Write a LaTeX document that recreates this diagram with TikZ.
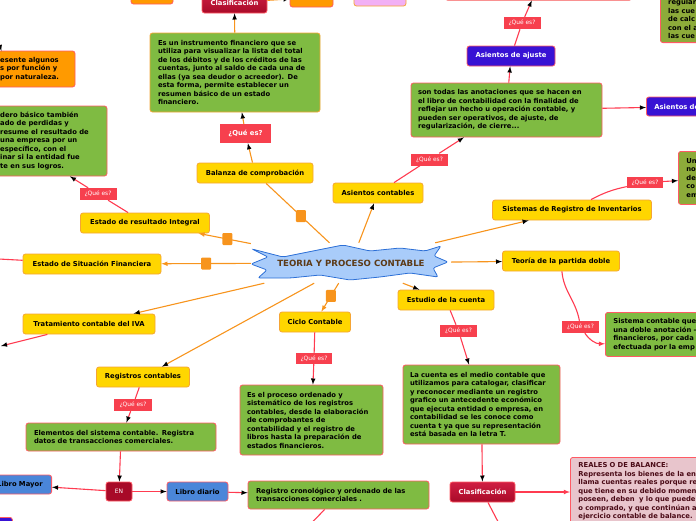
\documentclass[tikz,border=0pt]{standalone}
\usepackage{fontspec}
\setmainfont{DejaVu Sans}
\usetikzlibrary{arrows}
\usetikzlibrary{calc}

\definecolor{topicfill}{HTML}{FFD600}
\definecolor{topicline}{HTML}{F5A535}
\definecolor{notefill}{HTML}{7FBB42}
\definecolor{noteline}{HTML}{FF5A64}
\definecolor{olivefill}{HTML}{8DAB3A}
\definecolor{labelfill}{HTML}{F7404E}
\definecolor{linkorange}{HTML}{F7941D}
\definecolor{redline}{HTML}{FF3B50}
\definecolor{clasiftop}{HTML}{D01E42}
\definecolor{clasifbot}{HTML}{A80A28}
\definecolor{ajustefill}{HTML}{3812D4}
\definecolor{librofill}{HTML}{4A86D9}
\definecolor{orangefill}{HTML}{FF9A00}
\definecolor{pinkfill}{HTML}{E8C5CC}
\definecolor{pinktext}{HTML}{4A0A16}
\definecolor{lavender}{HTML}{F2B0F5}
\definecolor{starfill}{HTML}{A9CCFA}
\definecolor{starline}{HTML}{2C6FD6}
\definecolor{startext}{HTML}{5C3A17}

\begin{document}
\begin{tikzpicture}[x=1pt,y=-1pt,
    txt/.style={font=\fontsize{6.8}{8.5}\selectfont\bfseries},
    box/.style={txt,rounded corners=2.5pt,line width=0.8pt,inner sep=0pt},
    topic/.style={box,fill=topicfill,draw=topicline,minimum height=20},
    note/.style={box,fill=notefill,draw=noteline,align=left},
    olive/.style={box,fill=olivefill,draw=noteline},
    quees/.style={fill=labelfill,text=white,font=\fontsize{5.9}{7}\selectfont,
      inner sep=0pt,minimum width=37,minimum height=12},
    darkbox/.style={box,top color=clasiftop,bottom color=clasifbot,draw=noteline,
      text=white,minimum height=20},
    purplebox/.style={box,fill=ajustefill,draw=noteline,text=white,minimum height=20},
    librobox/.style={box,fill=librofill,draw=noteline,minimum height=19},
    orangebox/.style={box,fill=orangefill,draw=noteline},
    fragment/.style={txt,align=left,inner sep=0pt,anchor=west},
    marker/.style={fill=linkorange,rounded corners=1pt,minimum width=10,
      minimum height=12,inner sep=0pt},
    link/.style={draw=linkorange,line width=1.1pt},
    linkarrow/.style={link,-latex},
    redlink/.style={draw=redline,line width=1.1pt},
    redarrow/.style={redlink,-latex}]

  \useasboundingbox (0,0) rectangle (696,520);
  \clip (0,0) rectangle (696,520);

  % central topic
  \draw[fill=starfill,draw=starline,line width=0.8pt,rounded corners=2pt]
    (252,249) -- (283,257) -- (313,251) -- (343,245) -- (370,251) -- (400,248)
    -- (425,251) -- (441,246) -- (434,256) -- (448,262) -- (433,268) -- (438,277)
    -- (410,273) -- (380,277) -- (350,280) -- (320,275) -- (290,278) -- (258,278)
    -- (267,270) -- (251,264) -- (268,257) -- cycle;
  \node[font=\fontsize{8.6}{9}\selectfont\bfseries,text=startext,
    minimum width=200,minimum height=40] (main) at (351,263) {TEORIA Y PROCESO CONTABLE};

  % main topics
  \node[topic,minimum width=116] (balanza) at (255,173) {Balanza de comprobación};
  \node[topic,minimum width=90] (asientos) at (378,193) {Asientos contables};
  \node[topic,minimum width=159] (sistemas) at (572,210) {Sistemas de Registro de Inventarios};
  \node[topic,minimum width=117] (partida) at (561,261) {Teoría de la partida doble};
  \node[topic,minimum width=96] (estudio) at (446,300) {Estudio de la cuenta};
  \node[topic,minimum width=71] (ciclo) at (315,322) {Ciclo Contable};
  \node[topic,minimum width=93] (registros) at (143,377) {Registros contables};
  \node[topic,minimum width=132] (iva) at (89,324) {Tratamiento contable del IVA};
  \node[topic,minimum width=138] (situacion) at (92,264) {Estado de Situación Financiera};
  \node[topic,minimum width=129] (resultado) at (145,223) {Estado de resultado Integral};

  \draw[link] (main) -- node[marker,pos=.45] (mkbalanza) {} (balanza);
  \draw[linkarrow] (main) -- node[marker,pos=.45] (mkresultado) {} (resultado);
  \draw[linkarrow] (main) -- node[marker,pos=.5] (mksituacion) {} (situacion);
  \draw[linkarrow] (main) -- node[marker,pos=.45] (mkciclo) {} (ciclo);
  \path[linkarrow] (main) edge (asientos);
  \path[linkarrow] (main) edge (sistemas);
  \path[linkarrow] (main) edge (partida);
  \path[linkarrow] (main) edge (estudio);
  \path[linkarrow] (main) edge (registros);
  \path[linkarrow] (main) edge (iva);

  % balanza branch
  \node[quees,txt,text=white,minimum width=51,minimum height=19] (qbalanza) at (245.5,133.5) {¿Qué es?};
  \node[note,draw=topicline,minimum width=170,minimum height=79,text width=154pt] (balanzadef) at (235,72.5)
    {Es un instrumento financiero que se\\utiliza para visualizar la lista del total\\de los débitos y de los créditos de las\\cuentas, junto al saldo de cada una de\\ellas (ya sea deudor o acreedor). De\\esta forma, permite establecer un\\resumen básico de un estado\\financiero.};
  \node[darkbox,minimum width=65,minimum height=21] (clasiftop) at (234.5,2.5) {Clasificación};
  \node[orangebox,minimum width=42,minimum height=19] (toporange) at (152,-5.5) {};
  \node[orangebox,minimum width=43,minimum height=19] (topmiddle) at (311.5,-2.5) {};
  \node[box,fill=lavender,draw=topicline,minimum width=52,minimum height=19] (toppink) at (380,-3.5) {};
  \path[linkarrow] (balanza) edge (qbalanza);
  \path[linkarrow] (qbalanza) edge (balanzadef);
  \path[linkarrow] (balanzadef) edge (clasiftop);
  \path[linkarrow] (clasiftop) edge (toporange);
  \path[linkarrow] (clasiftop) edge (topmiddle);
  \path[linkarrow] (topmiddle) edge (toppink);

  % asientos branch
  \node[quees] (qasientos) at (429.5,159.5) {¿Qué es?};
  \node[note,minimum width=191,minimum height=54,text width=177pt] (asientosdef) at (506.5,110)
    {son todas las anotaciones que se hacen en\\el libro de contabilidad con la finalidad de\\reflejar un hecho u operación contable, y\\pueden ser operativos, de ajuste, de\\regularización, de cierre...};
  \node[purplebox,minimum width=88] (ajuste) at (511,56) {Asientos de ajuste};
  \node[quees] (qajuste) at (522,23) {¿Qué es?};
  \node[note,minimum width=187,minimum height=30,anchor=south] (ajustedef) at (538.5,0.5) {};
  \node[purplebox,minimum width=108,minimum height=19,anchor=west,text width=92pt,align=left] (cierre) at (646,106.5) {Asientos de};
  \node[olive,minimum width=100,minimum height=90,anchor=south west] (topolive) at (660,43) {};
  \node[fragment,anchor=south west] (topolivetext) at (668,39) {regular\\las cue\\de calc\\con el a\\las cue};
  \path[redlink] (asientos) edge (qasientos);
  \path[redarrow] (qasientos) edge (asientosdef);
  \path[redarrow] (asientosdef) edge (ajuste);
  \path[redlink] (ajuste) edge (qajuste);
  \path[redarrow] (qajuste) edge (ajustedef);
  \path[redarrow] (asientosdef) edge (cierre);

  % sistemas branch
  \node[quees,minimum width=36,minimum height=11] (qsistemas) at (645,182.5) {¿Qué es?};
  \node[olive,minimum width=100,minimum height=53,anchor=north west,text width=84pt,align=left] (sistemasdef) at (678,151)
    {Un\\no\\de\\co\\em};
  \draw[redlink] (sistemas) to[bend left=8] (qsistemas);
  \path[redarrow] (qsistemas) edge (sistemasdef);

  % partida doble branch
  \node[quees] (qpartida) at (580.5,327) {¿Qué es?};
  \node[note,minimum width=175,minimum height=44,anchor=north west,text width=159pt] (partidadef) at (605,312)
    {Sistema contable que\\una doble anotación -\\financieros, por cada\\efectuada por la emp};
  \draw[redlink] (partida) to[out=-85,in=100] (qpartida);
  \draw[redarrow] (qpartida) to[out=-55,in=180] ([yshift=13pt]partidadef.south west);

  % estudio branch
  \node[quees] (qestudio) at (458.5,331) {¿Qué es?};
  \node[note,minimum width=157,minimum height=79,text width=143pt] (cuentadef) at (481.5,404.5)
    {La cuenta es el medio contable que\\utilizamos para catalogar, clasificar\\y reconocer mediante un registro\\grafico un antecedente económico\\que ejecuta entidad o empresa, en\\contabilidad se les conoce como\\cuenta t ya que su representación\\está basada en la letra T.};
  \node[darkbox,minimum width=65] (clasifdown) at (482.5,492) {Clasificación};
  \node[box,fill=pinkfill,draw=noteline,text=pinktext,anchor=north west,align=left,
    inner xsep=8pt,inner ysep=5.5pt,text width=170pt] (reales) at (570,457)
    {REALES O DE BALANCE:\\Representa los bienes de la en\\llama cuentas reales porque re\\que tiene en su debido momen\\poseen, deben \ y lo que puede\\o comprado, y que continúan a\\ejercicio contable de balance.\\ };
  \coordinate (clasifout) at (505,535);
  \path[redlink] (estudio) edge (qestudio);
  \path[redarrow] (qestudio) edge (cuentadef);
  \path[redarrow] (cuentadef) edge (clasifdown);
  \draw[redarrow] (clasifdown) -- (clasifdown -| reales.west);
  \path[redlink] (clasifdown) edge (clasifout);

  % ciclo branch
  \node[quees,minimum width=36,minimum height=11] (qciclo) at (314,358.5) {¿Qué es?};
  \node[note,minimum width=143,minimum height=70,text width=129pt] (ciclodef) at (311.5,420)
    {Es el proceso ordenado y\\sistemático de los registros\\contables, desde la elaboración\\de comprobantes de\\contabilidad y el registro de\\libros hasta la preparación de\\estados financieros.};
  \path[redlink] (ciclo) edge (qciclo);
  \path[redarrow] (qciclo) edge (ciclodef);

  % registros branch
  \node[quees,minimum width=38] (qregistros) at (133,405) {¿Qué es?};
  \node[note,minimum width=190,minimum height=28,text width=174pt] (registrosdef) at (121,437)
    {Elementos del sistema contable. Registra\\datos de transacciones comerciales.};
  \node[box,fill=clasifbot,draw=noteline,text=white,font=\fontsize{6}{7}\selectfont,
    minimum width=26,minimum height=19] (en) at (119,491.5) {EN};
  \node[librobox,minimum width=82,text width=64pt,align=right,anchor=east] (mayor) at (52,484.5) {Libro Mayor};
  \node[librobox,minimum width=61] (diario) at (197.5,491.5) {Libro diario};
  \node[note,minimum width=181,minimum height=28,text width=165pt] (diariodef) at (338.5,495)
    {Registro cronológico y ordenado de las\\transacciones comerciales .};
  \node[purplebox,minimum width=32,minimum height=24,anchor=north west] (bottomleft) at (-20,517) {};
  \coordinate (diarioout) at (300,535);
  \path[redlink] (registros) edge (qregistros);
  \path[redarrow] (qregistros) edge (registrosdef);
  \path[redarrow] (registrosdef) edge (en);
  \path[redarrow] (en) edge (mayor);
  \path[redarrow] (en) edge (diario);
  \path[redarrow] (diario) edge (diariodef);
  \path[redlink] (diariodef) edge (diarioout);

  % left branches
  \node[quees] (qresultado) at (98,194) {¿Qué es?};
  \node[note,minimum width=187,minimum height=70] (resultadodef) at (13.5,141) {};
  \node[fragment] (resultadotext) at (0,141)
    {dero básico también\\ado de perdidas y\\resume el resultado de\\una empresa por un\\específico, con el\\inar si la entidad fue\\te en sus logros.};
  \node[orangebox,minimum width=155,minimum height=36] (funciondef) at (-2.5,69) {};
  \node[fragment] (funciontext) at (0,69) {esente algunos\\s por función y\\por naturaleza.};
  \coordinate (funcionin) at (-5,30);
  \coordinate (funciontop) at (1.5,51);
  \coordinate (situacionout) at (-20,258);
  \coordinate (ivaout) at (1,346);
  \path[redlink] (resultado) edge (qresultado);
  \path[redarrow] (qresultado) edge (resultadodef);
  \path[redarrow] (funcionin) edge (funciontop);
  \path[redlink] (situacion) edge (situacionout);
  \path[redarrow] (iva) edge (ivaout);
\end{tikzpicture}
\end{document}
